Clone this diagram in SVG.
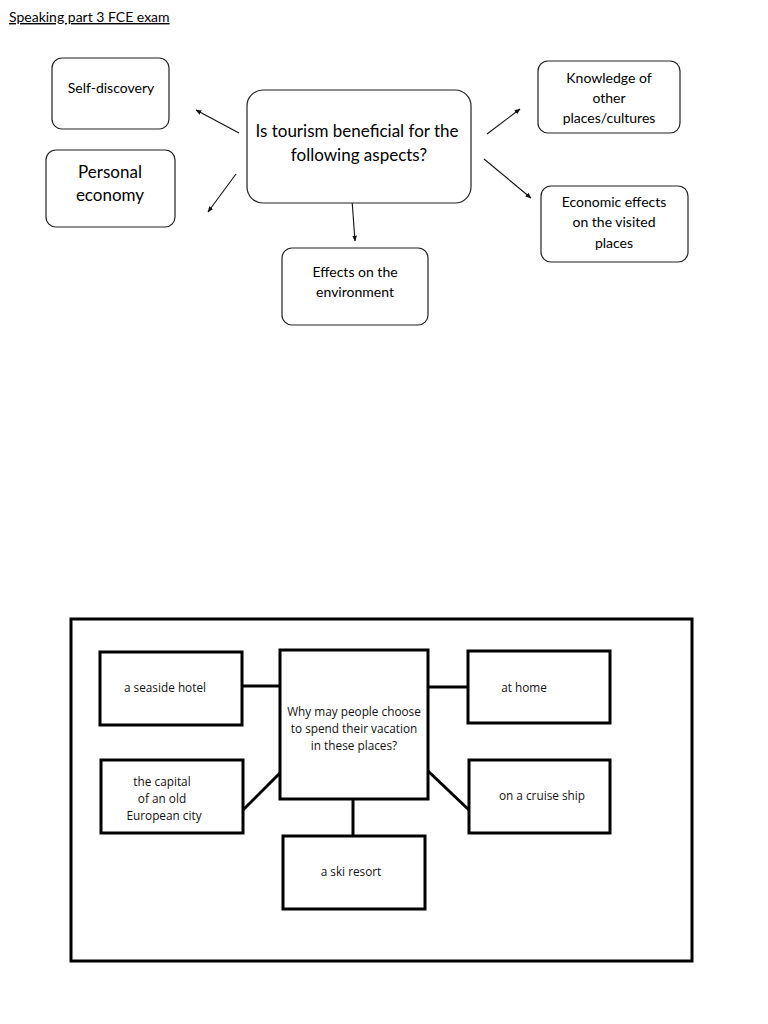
<svg xmlns="http://www.w3.org/2000/svg" width="768" height="1024" viewBox="0 0 768 1024">
<defs>
<style>
.rbox{fill:#fff;stroke:#222;stroke-width:1.2}
.sbox{fill:#fff;stroke:#000;stroke-width:3}
.t{font-family:Lato,"Liberation Sans",sans-serif;fill:#000;text-anchor:middle}
.s{font-size:14px}
.b{font-size:17px}
.q{font-family:"Open Sans","Liberation Sans",sans-serif;font-size:11.8px;fill:#111;text-anchor:middle}
.arr{stroke:#111;stroke-width:1.1;fill:none;marker-end:url(#ah)}
.ln{stroke:#000;stroke-width:3;fill:none}
</style>
<marker id="ah" viewBox="0 0 10 10" refX="9" refY="5" markerWidth="6" markerHeight="6" orient="auto" markerUnits="userSpaceOnUse">
<path d="M0,1 L10,5 L0,9 z" fill="#111"/>
</marker>
</defs>
<rect width="768" height="1024" fill="#fff"/>
<text x="9" y="22" font-family="Lato,'Liberation Sans',sans-serif" font-size="14" fill="#000" text-decoration="underline">Speaking part 3 FCE exam</text>

<g id="connectors">
<line class="arr" x1="239" y1="133" x2="196" y2="110"/>
<line class="arr" x1="236" y1="174" x2="208" y2="212"/>
<line class="arr" x1="352" y1="200" x2="355" y2="241"/>
<line class="arr" x1="487" y1="134" x2="520" y2="109"/>
<line class="arr" x1="484" y1="159" x2="531" y2="198"/>
<line class="ln" x1="242" y1="686" x2="280" y2="686"/>
<line class="ln" x1="428" y1="687" x2="468" y2="687"/>
<line class="ln" x1="243" y1="810" x2="280" y2="773"/>
<line class="ln" x1="428" y1="771" x2="469" y2="810"/>
<line class="ln" x1="353" y1="799" x2="353" y2="836"/>
</g>

<g id="center">
<rect class="rbox" x="247" y="90" width="224" height="113" rx="16"/>
<text class="t b" x="357" y="137">Is tourism beneficial for the</text>
<text class="t b" x="359" y="161">following aspects?</text>
</g>
<g id="self-discovery">
<rect class="rbox" x="52" y="58" width="117" height="71" rx="10"/>
<text class="t s" x="111" y="93">Self-discovery</text>
</g>
<g id="personal-economy">
<rect class="rbox" x="46" y="150" width="129" height="77" rx="10"/>
<text class="t b" x="110" y="178">Personal</text>
<text class="t b" x="110" y="201">economy</text>
</g>
<g id="knowledge">
<rect class="rbox" x="538" y="61" width="142" height="72" rx="10"/>
<text class="t s" x="609" y="83">Knowledge of</text>
<text class="t s" x="609" y="103">other</text>
<text class="t s" x="609" y="123">places/cultures</text>
</g>
<g id="economic">
<rect class="rbox" x="541" y="186" width="147" height="76" rx="10"/>
<text class="t s" x="614" y="207">Economic effects</text>
<text class="t s" x="614" y="227">on the visited</text>
<text class="t s" x="614" y="248">places</text>
</g>
<g id="environment">
<rect class="rbox" x="282" y="248" width="146" height="77" rx="10"/>
<text class="t s" x="355" y="277">Effects on the</text>
<text class="t s" x="355" y="297">environment</text>
</g>

<rect x="71" y="619" width="621" height="342" fill="none" stroke="#000" stroke-width="3"/>

<g id="why">
<rect class="sbox" x="280" y="650" width="148" height="149"/>
<text class="q" x="354" y="716">Why may people choose</text>
<text class="q" x="354" y="733">to spend their vacation</text>
<text class="q" x="354" y="750">in these places?</text>
</g>
<g id="seaside">
<rect class="sbox" x="100" y="652" width="142" height="73"/>
<text class="q" x="165" y="692">a seaside hotel</text>
</g>
<g id="capital">
<rect class="sbox" x="101" y="760" width="142" height="73"/>
<text class="q" x="162" y="786">the capital</text>
<text class="q" x="162" y="803">of an old</text>
<text class="q" x="164" y="820">European city</text>
</g>
<g id="athome">
<rect class="sbox" x="468" y="651" width="142" height="72"/>
<text class="q" x="524" y="692">at home</text>
</g>
<g id="cruise">
<rect class="sbox" x="469" y="760" width="141" height="73"/>
<text class="q" x="542" y="800">on a cruise ship</text>
</g>
<g id="ski">
<rect class="sbox" x="283" y="836" width="142" height="73"/>
<text class="q" x="351" y="876">a ski resort</text>
</g>
</svg>
